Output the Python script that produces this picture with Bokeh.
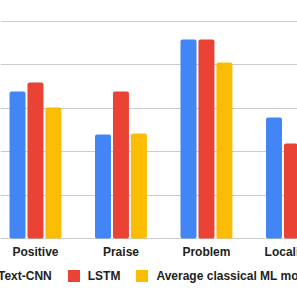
from bokeh.plotting import figure
from bokeh.models import ColumnDataSource, FixedTicker, Range1d, Legend, LegendItem
from bokeh.core.properties import value
from bokeh.transform import dodge
from bokeh.embed import file_html
from bokeh.resources import INLINE

categories = ["Positive", "Praise", "Problem", "Localized"]
text_cnn = [0.677, 0.479, 0.917, 0.558]
lstm = [0.719, 0.677, 0.917, 0.438]
classical_ml = [0.604, 0.484, 0.811, 0.45]
series_names = ["Text-CNN", "LSTM", "Average classical ML models"]
colors = ["#4285F4", "#EA4335", "#FBBC04"]
y_ticks = [0, 0.2, 0.4, 0.6, 0.8, 1.0]

pos = list(range(len(categories)))
src = ColumnDataSource(dict(pos=pos, name=categories, a=text_cnn, b=lstm, c=classical_ml,
                            ly=[-0.06] * len(categories)))

p = figure(width=297, height=297, output_backend="svg", toolbar_location=None,
           x_range=Range1d(-0.409, 3.065), y_range=Range1d(-0.272, 1.097),
           min_border=0, x_axis_location=None, y_axis_location=None)
p.outline_line_color = None
p.background_fill_color = "white"
p.border_fill_color = "white"

bw = 0.187
renderers = []
for key, off, col in zip(["a", "b", "c"], [-0.21, 0.0, 0.21], colors):
    r = p.vbar(x=dodge("pos", off, range=p.x_range), top=key, bottom=0, width=bw,
               source=src, fill_color=col, line_color=None, border_radius=2)
    renderers.append(r)

p.xgrid.grid_line_color = None
p.ygrid.ticker = FixedTicker(ticks=y_ticks)
p.ygrid.grid_line_color = "#cccccc"
p.ygrid.grid_line_width = 1

p.text(x="pos", y="ly", text="name", source=src, text_align="center", text_baseline="middle",
       text_font=value("Liberation Sans"), text_font_style="bold", text_font_size="12px",
       text_color="#222222")

legend = Legend(items=[LegendItem(label=n, renderers=[r]) for n, r in zip(series_names, renderers)],
                orientation="horizontal", location=(-24, 14),
                glyph_width=15, glyph_height=15, label_height=15, label_standoff=7,
                spacing=14, padding=0, margin=0,
                border_line_color=None, background_fill_alpha=0,
                label_text_font="Liberation Sans", label_text_font_style="bold",
                label_text_font_size="12px", label_text_color="#222222")
p.add_layout(legend, "center")

open("out.html", "w").write(file_html(p, INLINE))
